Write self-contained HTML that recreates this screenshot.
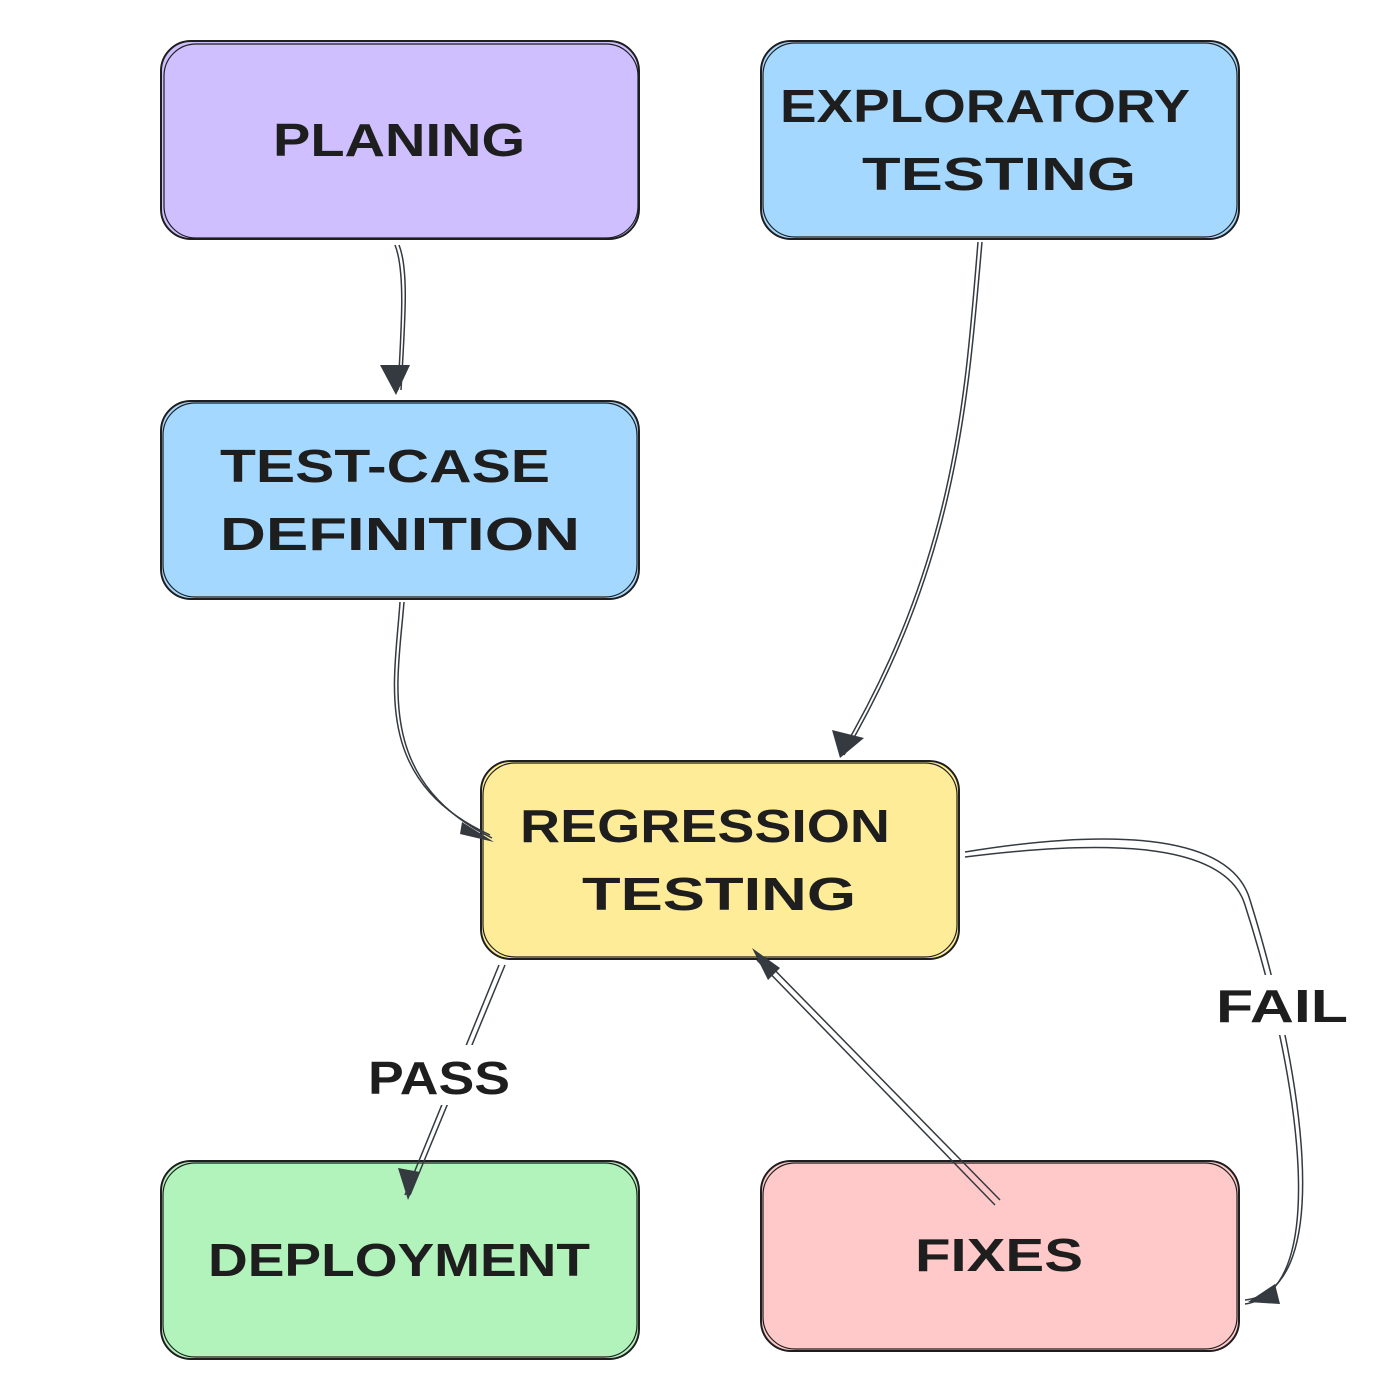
<!DOCTYPE html>
<html><head><meta charset="utf-8"><style>
html,body{margin:0;padding:0;background:#fff;width:1400px;height:1400px;overflow:hidden}
svg text{font-family:"Liberation Sans",sans-serif;font-size:46px;font-weight:bold;fill:#1e1e1e}
</style></head><body>
<svg width="1400" height="1400" viewBox="0 0 1400 1400" xmlns="http://www.w3.org/2000/svg">
<g stroke="#1e1e1e" stroke-width="2">
<rect x="161" y="41" width="478" height="198" rx="30" fill="#d0bfff"/>
<rect x="164" y="44" width="474" height="194" rx="32" fill="none" stroke-width="1.2"/>
<rect x="761" y="41" width="478" height="198" rx="30" fill="#a5d8ff"/>
<rect x="763" y="43" width="474" height="194" rx="32" fill="none" stroke-width="1.2"/>
<rect x="161" y="401" width="478" height="198" rx="30" fill="#a5d8ff"/>
<rect x="163" y="403" width="474" height="194" rx="32" fill="none" stroke-width="1.2"/>
<rect x="481" y="761" width="478" height="198" rx="30" fill="#ffec99"/>
<rect x="483" y="763" width="474" height="194" rx="32" fill="none" stroke-width="1.2"/>
<rect x="161" y="1161" width="478" height="198" rx="30" fill="#b2f2bb"/>
<rect x="163" y="1163" width="474" height="194" rx="32" fill="none" stroke-width="1.2"/>
<rect x="761" y="1161" width="478" height="190" rx="30" fill="#ffc9c9"/>
<rect x="763" y="1163" width="474" height="186" rx="32" fill="none" stroke-width="1.2"/>
</g>
<g stroke="#343a40" stroke-width="1.5" fill="none">
<path d="M395 245 C405 270 402 320 398 390"/><path d="M399 245 C409 270 405 320 401 390"/>
<path d="M978 242 C965 400 955 560 840 755"/><path d="M982 242 C968 400 958 560 844 755"/>
<path d="M400 602 C395 680 370 780 490 835"/><path d="M404 602 C398 680 374 780 492 838"/>
<path d="M505 965 L410 1195"/><path d="M499 965 L405 1195"/>
<path d="M1000 1200 L760 955"/><path d="M995 1205 L757 960"/>
<path d="M965 852 C1100 830 1230 830 1250 900 C1300 1060 1340 1290 1245 1300"/>
<path d="M965 857 C1100 840 1225 840 1245 905 C1295 1060 1335 1290 1245 1304"/>
</g>
<g fill="#343a40">
<polygon points="380,365 410,365 396,395"/>
<polygon points="832,730 864,738 840,758"/>
<polygon points="462,822 494,842 460,834"/>
<polygon points="398,1168 420,1172 408,1200"/>
<polygon points="752,948 780,968 768,980"/>
<polygon points="1275,1284 1280,1304 1248,1302"/>
</g>
<rect x="1212" y="975" width="140" height="60" fill="#fff"/>
<rect x="365" y="1045" width="150" height="60" fill="#fff"/>
<text x="273" y="156" textLength="252" lengthAdjust="spacingAndGlyphs">PLANING</text>
<text x="780" y="122" textLength="410" lengthAdjust="spacingAndGlyphs">EXPLORATORY</text>
<text x="862" y="190" textLength="274" lengthAdjust="spacingAndGlyphs">TESTING</text>
<text x="220" y="482" textLength="330" lengthAdjust="spacingAndGlyphs">TEST-CASE</text>
<text x="220" y="550" textLength="360" lengthAdjust="spacingAndGlyphs">DEFINITION</text>
<text x="520" y="842" textLength="370" lengthAdjust="spacingAndGlyphs">REGRESSION</text>
<text x="582" y="910" textLength="274" lengthAdjust="spacingAndGlyphs">TESTING</text>
<text x="208" y="1276" textLength="382" lengthAdjust="spacingAndGlyphs">DEPLOYMENT</text>
<text x="915" y="1271" textLength="168" lengthAdjust="spacingAndGlyphs">FIXES</text>
<text x="1216" y="1022" textLength="132" lengthAdjust="spacingAndGlyphs">FAIL</text>
<text x="368" y="1094" textLength="142" lengthAdjust="spacingAndGlyphs">PASS</text>
</svg>
</body></html>
